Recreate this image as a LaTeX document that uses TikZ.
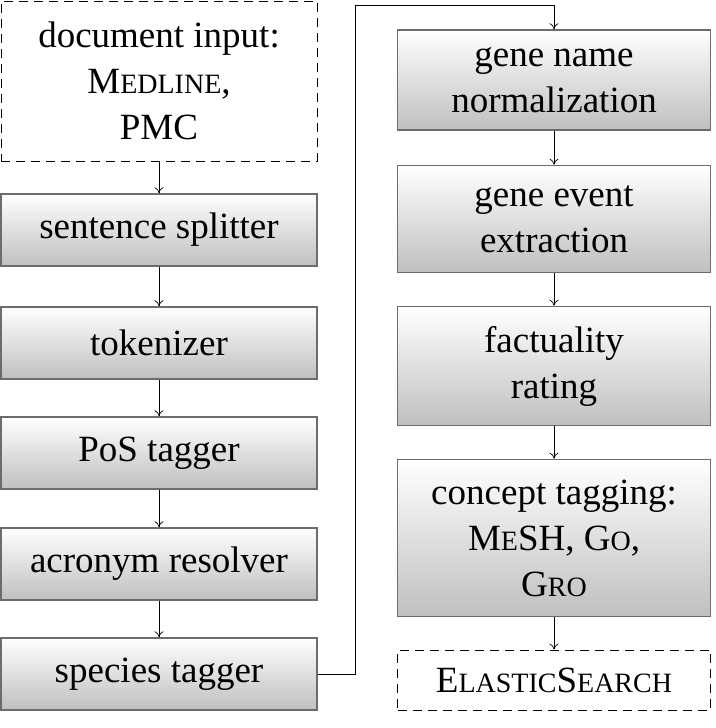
\documentclass[tikz,border=0pt]{standalone}
\usepackage{fontspec}
\setmainfont{Liberation Serif}
\usetikzlibrary{arrows.meta}
\newcommand\mysc[2]{#1{\fontsize{28}{28}\selectfont #2}}
\begin{document}
\begin{tikzpicture}[x=1pt,y=-1pt,
  box/.style={draw=gray!85!black,line width=1.6pt,top color=white,bottom color=black!25,
    align=center,inner sep=0pt,font=\fontsize{37}{46}\selectfont},
  dbox/.style={draw=black,dash pattern=on 9pt off 6pt,line width=0.8pt,fill=white,align=center,inner sep=0pt,font=\fontsize{37}{46}\selectfont},
  ar/.style={-{To[length=6pt,width=9pt]},line width=0.7pt}]
\useasboundingbox (0,0) rectangle (715,728);
\node[dbox,minimum width=316,minimum height=160] (in) at (159,81) {document input:\\\mysc{M}{EDLINE},\\PMC};
\node[box,minimum width=316,minimum height=72] (ss) at (159,230) {sentence splitter};
\node[box,minimum width=316,minimum height=72] (tk) at (159,343) {tokenizer};
\node[box,minimum width=316,minimum height=72] (pos) at (159,453) {PoS tagger};
\node[box,minimum width=316,minimum height=72] (ac) at (159,564) {acronym resolver};
\node[box,minimum width=316,minimum height=72] (sp) at (159,674) {species tagger};
\node[box,minimum width=313,minimum height=100] (gn) at (554,80) {gene name\\normalization};
\node[box,minimum width=313,minimum height=107] (ge) at (554,219) {gene event\\extraction};
\node[box,minimum width=313,minimum height=119] (fr) at (554,366) {factuality\\rating};
\node[box,minimum width=313,minimum height=157] (ct) at (554,538) {concept tagging:\\\mysc{M}{E}SH, \mysc{G}{O},\\\mysc{G}{RO}};
\node[dbox,minimum width=313,minimum height=60] (es) at (554,680) {\mysc{E}{LASTIC}\mysc{S}{EARCH}};
\coordinate (c1) at (355,674);
\coordinate (c2) at (355,5);
\coordinate (c3) at (554,5);
\draw[ar] (in) -- (ss);
\draw[ar] (ss) -- (tk);
\draw[ar] (tk) -- (pos);
\draw[ar] (pos) -- (ac);
\draw[ar] (ac) -- (sp);
\draw[ar] (sp.east) -- (c1) -- (c2) -- (c3) -- (gn.north);
\draw[ar] (gn) -- (ge);
\draw[ar] (ge) -- (fr);
\draw[ar] (fr) -- (ct);
\draw[ar] (ct) -- (es);
\end{tikzpicture}
\end{document}
